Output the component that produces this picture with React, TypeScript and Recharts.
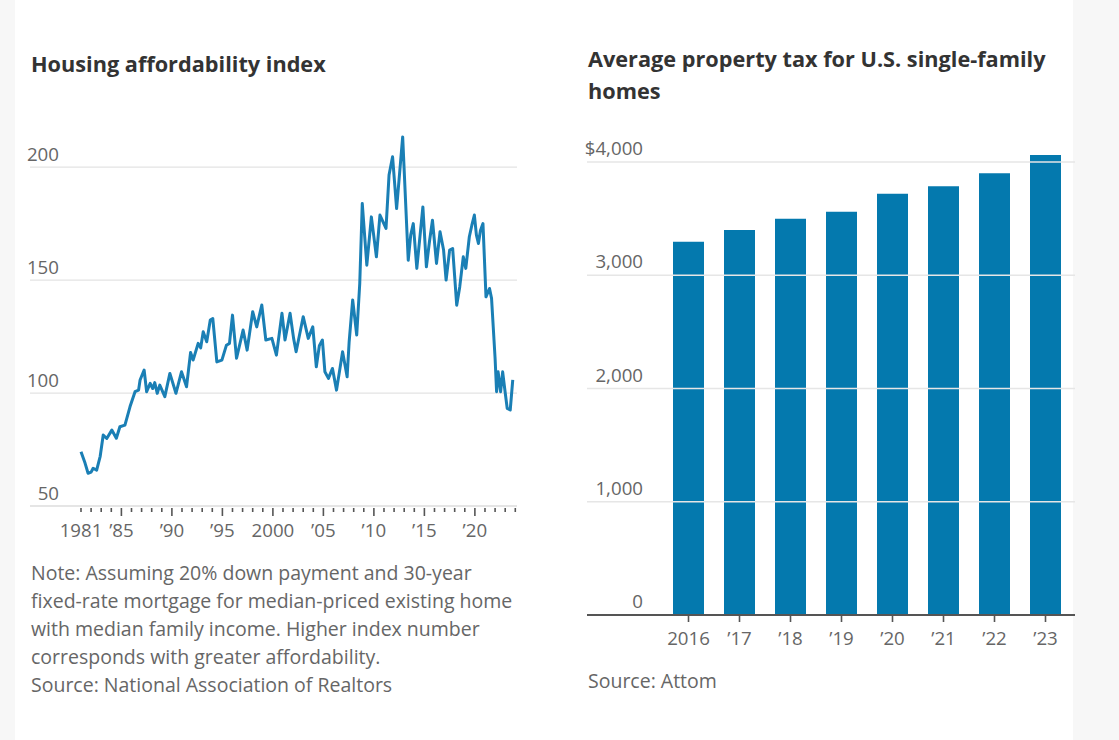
import React from 'react';
import { LineChart, Line, XAxis, YAxis, BarChart, Bar, ReferenceLine } from 'recharts';

const FONT = '"Open Sans", "Noto Sans", sans-serif';

// Housing affordability index (decimal year, index value)
const affordYears = [
  1981.0, 1981.4, 1981.7, 1982.0, 1982.2, 1982.55, 1982.9, 1983.2, 1983.55, 1984.05,
  1984.5, 1984.85, 1985.35, 1985.85, 1986.35, 1986.7, 1986.85, 1987.25, 1987.5, 1987.85,
  1988.1, 1988.3, 1988.55, 1988.8, 1989.3, 1989.8, 1990.4, 1990.95, 1991.45, 1991.85,
  1992.1, 1992.6, 1992.85, 1993.1, 1993.45, 1993.8, 1994.05, 1994.45, 1994.95, 1995.4,
  1995.7, 1996.0, 1996.4, 1997.05, 1997.45, 1998.0, 1998.4, 1998.9, 1999.3, 1999.9,
  2000.35, 2000.9, 2001.2, 2001.7, 2002.05, 2002.3, 2003.0, 2003.5, 2003.95, 2004.3,
  2004.6, 2004.9, 2005.15, 2005.5, 2005.9, 2006.3, 2006.9, 2007.35, 2007.55, 2007.9,
  2008.3, 2008.6, 2008.85, 2009.3, 2009.75, 2010.25, 2010.6, 2011.2, 2011.5, 2011.85,
  2012.25, 2012.85, 2013.4, 2013.65, 2013.9, 2014.25, 2014.85, 2015.2, 2015.5, 2015.8,
  2016.2, 2016.55, 2016.9, 2017.15, 2017.5, 2017.8, 2018.2, 2018.5, 2018.85, 2019.1,
  2019.45, 2019.7, 2019.95, 2020.15, 2020.35, 2020.55, 2020.8, 2021.1, 2021.45, 2021.65,
  2022.0, 2022.15, 2022.3, 2022.55, 2022.75, 2022.95, 2023.2, 2023.5, 2023.75,
];
const affordValues = [
  74, 69, 64.5, 65, 66.7, 65.9, 72, 81.4, 79.9, 83.6,
  80, 85.1, 85.8, 93.9, 100.6, 101.3, 105.8, 110.2, 100.6, 104.3,
  102, 104.6, 99.9, 103.5, 98.4, 108.7, 99.9, 109.4, 102.8, 118,
  114.6, 122, 120, 127.1, 122.7, 132.3, 133, 113.8, 114.6, 121.2,
  122, 134.5, 115.4, 127.9, 119, 136, 129.3, 139, 123.5, 124.2,
  116.8, 135.3, 123.5, 135.3, 124.2, 118.3, 133.8, 124.2, 129.3, 111.6,
  121, 123.5, 109.4, 106.5, 110.9, 101.3, 118.3, 107.2, 122.7, 141.2,
  125.7, 148.5, 183.9, 156.6, 178, 160.3, 178.8, 172.9, 196.5, 204.6,
  181.7, 213.4, 158.8, 170, 175, 155.2, 182.4, 155.9, 167, 176.5,
  157.4, 171.4, 163.3, 150, 163.3, 164, 138.9, 147, 160.3, 155.2,
  169.2, 174.3, 178.8, 170, 166.2, 172, 175, 142.6, 146.3, 141.9,
  115.4, 100.6, 109.4, 100.6, 109.4, 102, 93.2, 92.5, 105.8,
];
const affordTicks = [50, 100, 150, 200];
const affordTickLabels = ['50', '100', '150', '200'];
const yearTicks = [
  1981, 1982, 1983, 1984, 1985, 1986, 1987, 1988, 1989, 1990, 1991, 1992, 1993, 1994, 1995,
  1996, 1997, 1998, 1999, 2000, 2001, 2002, 2003, 2004, 2005, 2006, 2007, 2008, 2009, 2010,
  2011, 2012, 2013, 2014, 2015, 2016, 2017, 2018, 2019, 2020, 2021, 2022, 2023, 2024,
];
const majorYears = [1985, 1990, 1995, 2000, 2005, 2010, 2015, 2020];
const yearLabelKeys = [1981, 1985, 1990, 1995, 2000, 2005, 2010, 2015, 2020];
const yearLabelTexts = ['1981', '\u201985', '\u201990', '\u201995', '2000', '\u201905', '\u201910', '\u201915', '\u201920'];

// Average property tax for U.S. single-family homes
const taxCategories = ['2016', '\u201917', '\u201918', '\u201919', '\u201920', '\u201921', '\u201922', '\u201923'];
const taxValues = [3296, 3399, 3498, 3561, 3719, 3785, 3901, 4062];
const taxTicks = [0, 1000, 2000, 3000, 4000];
const taxTickLabels = ['0', '1,000', '2,000', '3,000', '$4,000'];

const affordData = affordYears.map((year, i) => ({ year, v: affordValues[i] }));
const taxData = taxCategories.map((label, i) => ({ label, v: taxValues[i] }));

const TICK_SIZE = 18.7;

const YearTick = (props: any) => {
  const { x, y, payload } = props;
  const v = payload.value;
  const major = majorYears.includes(v);
  const li = yearLabelKeys.indexOf(v);
  return (
    <g>
      <line x1={x} x2={x} y1={y + 2} y2={y + (major ? 10 : 6)} stroke="#555" strokeWidth={1.6} />
      {li >= 0 && (
        <text x={x} y={y + 31} textAnchor="middle" fill="#666" fontSize={TICK_SIZE} fontFamily={FONT}>
          {yearLabelTexts[li]}
        </text>
      )}
    </g>
  );
};

const TaxXTick = (props: any) => {
  const { x, y, payload } = props;
  return (
    <g>
      <line x1={x} x2={x} y1={y} y2={y + 7} stroke="#555" strokeWidth={1.6} />
      <text x={x} y={y + 30} textAnchor="middle" fill="#666" fontSize={TICK_SIZE} fontFamily={FONT}>
        {payload.value}
      </text>
    </g>
  );
};

const gridLabel = (text: string, dx: number, dy: number) => (p: any) => {
  const vb = p.viewBox || {};
  return (
    <text x={vb.x + dx} y={vb.y + dy} textAnchor="end" fill="#666" fontSize={TICK_SIZE} fontFamily={FONT}>
      {text}
    </text>
  );
};

export default function App() {
  return (
    <div style={{ position: 'absolute', left: 0, top: 0, width: 1119, height: 740, background: '#f7f7f7', fontFamily: FONT }}>
      <div style={{ position: 'absolute', left: 15, top: 0, width: 1058, height: 740, background: '#fff' }} />
      <div style={{ position: 'absolute', left: 31, top: 50, fontSize: 21.7, lineHeight: '28px', fontWeight: 700, color: '#333', whiteSpace: 'nowrap' }}>
        Housing affordability index
      </div>
      <div style={{ position: 'absolute', left: 588, top: 43, fontSize: 21.7, lineHeight: '32px', fontWeight: 700, color: '#333', whiteSpace: 'nowrap' }}>
        Average property tax for U.S. single-family<br />homes
      </div>

      <div style={{ position: 'absolute', left: 0, top: 100 }}>
        <LineChart width={540} height={460} data={affordData} margin={{ top: 22, right: 23, bottom: 14, left: 30 }}>
          <XAxis
            type="number"
            dataKey="year"
            domain={[1975.95, 2024.17]}
            allowDataOverflow
            ticks={yearTicks}
            interval={0}
            tickSize={0}
            tickMargin={0}
            tickLine={false}
            axisLine={{ stroke: '#dcdcdc', strokeWidth: 1.5 }}
            tick={<YearTick />}
            height={40}
          />
          <YAxis type="number" domain={[50, 220]} allowDataOverflow hide />
          {affordTicks.map((t, i) => (
            <ReferenceLine
              key={t}
              y={t}
              stroke="#e3e3e3"
              strokeWidth={1.3}
              strokeOpacity={i === 0 ? 0 : 1}
              label={gridLabel(affordTickLabels[i], 29, -6)}
            />
          ))}
          <Line type="linear" dataKey="v" stroke="#1a7fb5" strokeWidth={3} dot={false} strokeLinejoin="round" isAnimationActive={false} />
        </LineChart>
      </div>

      <div style={{ position: 'absolute', left: 560, top: 100 }}>
        <BarChart width={530} height={580} data={taxData} margin={{ top: 50.7, right: 15, bottom: 20, left: 27 }}>
          <XAxis
            dataKey="label"
            type="category"
            interval={0}
            padding={{ left: 76, right: 4 }}
            tickSize={0}
            tickMargin={0}
            tickLine={false}
            axisLine={false}
            tick={<TaxXTick />}
            height={45}
          />
          <YAxis type="number" domain={[0, 4100]} allowDataOverflow hide />
          {taxTicks.map((t, i) => (
            <ReferenceLine
              key={t}
              y={t}
              stroke="#e6e6e6"
              strokeWidth={1.3}
              strokeOpacity={i === 0 ? 0 : 1}
              label={gridLabel(taxTickLabels[i], 56, -7)}
            />
          ))}
          <Bar dataKey="v" fill="#0479ae" barSize={31} isAnimationActive={false} />
          <ReferenceLine y={0} stroke="#555" strokeWidth={1.8} />
        </BarChart>
      </div>

      <div style={{ position: 'absolute', left: 31, top: 559, fontSize: 19.5, lineHeight: '28px', color: '#666', whiteSpace: 'nowrap' }}>
        Note: Assuming 20% down payment and 30-year<br />
        fixed-rate mortgage for median-priced existing home<br />
        with median family income. Higher index number<br />
        corresponds with greater affordability.<br />
        Source: National Association of Realtors
      </div>
      <div style={{ position: 'absolute', left: 588, top: 667, fontSize: 19.5, lineHeight: '28px', color: '#666', whiteSpace: 'nowrap' }}>
        Source: Attom
      </div>
    </div>
  );
}
